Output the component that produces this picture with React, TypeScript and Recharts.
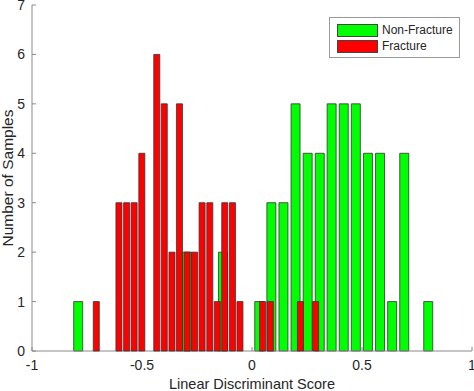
import { BarChart, Bar, XAxis, YAxis, Legend } from "recharts";

// bin centres (Linear Discriminant Score) and counts
const nonFractureBins = [
  -0.788, -0.294, -0.13, 0.035, 0.09, 0.145, 0.2, 0.255, 0.31, 0.364, 0.419,
  0.474, 0.529, 0.584, 0.639, 0.694, 0.803,
];
const nonFractureCounts = [1, 2, 2, 1, 3, 3, 5, 4, 4, 5, 5, 5, 4, 4, 1, 4, 1];

const fractureBins = [
  -0.709, -0.606, -0.571, -0.537, -0.502, -0.434, -0.4, -0.365, -0.331, -0.296,
  -0.262, -0.228, -0.193, -0.159, -0.125, -0.09, -0.056, 0.047, 0.082, 0.219,
  0.288,
];
const fractureCounts = [
  1, 3, 3, 3, 4, 6, 5, 2, 5, 2, 2, 3, 3, 1, 3, 3, 1, 1, 1, 1, 1,
];

const xTicks = [-1, -0.5, 0, 0.5, 1];
const yTicks = [0, 1, 2, 3, 4, 5, 6, 7];
const seriesNames = ["Non-Fracture", "Fracture"];
const seriesColors = ["#00ff00", "#ff0000"];

const W = 474;
const H = 391;
const margin = { top: 5, right: 2, left: 0, bottom: 0 };
const font = "'Liberation Sans', Arial, sans-serif";
const axisColor = "#8a8a8a";
const textColor = "#262626";

const greenData = nonFractureBins.map((x, i) => ({ x, count: nonFractureCounts[i] }));
const redData = fractureBins.map((x, i) => ({ x, count: fractureCounts[i] }));

const LegendBox = () => (
  <div
    style={{
      border: "1px solid #9a9a9a",
      background: "#fff",
      padding: "4px 5px 3px 7px",
      fontFamily: font,
      fontSize: 12,
      color: textColor,
      width: 117,
      whiteSpace: "nowrap",
    }}
  >
    {seriesNames.map((name, i) => (
      <div key={name} style={{ display: "flex", alignItems: "center", height: 16 }}>
        <span
          style={{
            display: "inline-block",
            flex: "none",
            width: 39,
            height: 11,
            background: seriesColors[i],
            border: "1px solid #444",
            marginRight: 4,
          }}
        />
        {name}
      </div>
    ))}
  </div>
);

const App = () => {
  return (
    <div style={{ position: "absolute", left: 0, top: 0, width: W, height: H, fontFamily: font }}>
      <div style={{ position: "absolute", left: 0, top: 0 }}>
        <BarChart width={W} height={H} data={greenData} margin={margin}>
          <XAxis
            dataKey="x"
            type="number"
            domain={[-1, 1]}
            ticks={xTicks}
            interval={0}
            height={40}
            stroke={axisColor}
            tickSize={-4}
            tickMargin={13}
            tick={{ fill: textColor, fontSize: 14 }}
            label={{
              value: "Linear Discriminant Score",
              position: "insideBottom",
              offset: 2,
              style: { fill: textColor, fontSize: 14.5 },
            }}
          />
          <YAxis
            type="number"
            domain={[0, 7]}
            ticks={yTicks}
            interval={0}
            width={32}
            stroke={axisColor}
            tickSize={-4}
            tickMargin={11}
            tick={{ fill: textColor, fontSize: 14 }}
            label={{
              value: "Number of Samples",
              angle: -90,
              position: "insideLeft",
              offset: 7,
              style: { fill: textColor, fontSize: 15.5, textAnchor: "middle" },
            }}
          />
          <Legend
            layout="horizontal"
            verticalAlign="middle"
            align="center"
            wrapperStyle={{ top: 17, left: 329, width: 130 }}
            content={() => <LegendBox />}
          />
          <Bar
            dataKey="count"
            fill={seriesColors[0]}
            stroke="#333"
            strokeWidth={0.8}
            barSize={9}
            isAnimationActive={false}
          />
        </BarChart>
      </div>
      <div style={{ position: "absolute", left: 0, top: 0 }}>
        <BarChart width={W} height={H} data={redData} margin={margin}>
          <XAxis
            dataKey="x"
            type="number"
            domain={[-1, 1]}
            ticks={xTicks}
            height={40}
            axisLine={false}
            tickLine={false}
            tick={false}
          />
          <YAxis
            type="number"
            domain={[0, 7]}
            ticks={yTicks}
            width={32}
            axisLine={false}
            tickLine={false}
            tick={false}
          />
          <Bar
            dataKey="count"
            fill={seriesColors[1]}
            stroke="#333"
            strokeWidth={0.8}
            barSize={6}
            isAnimationActive={false}
          />
        </BarChart>
      </div>
    </div>
  );
};

export default App;
